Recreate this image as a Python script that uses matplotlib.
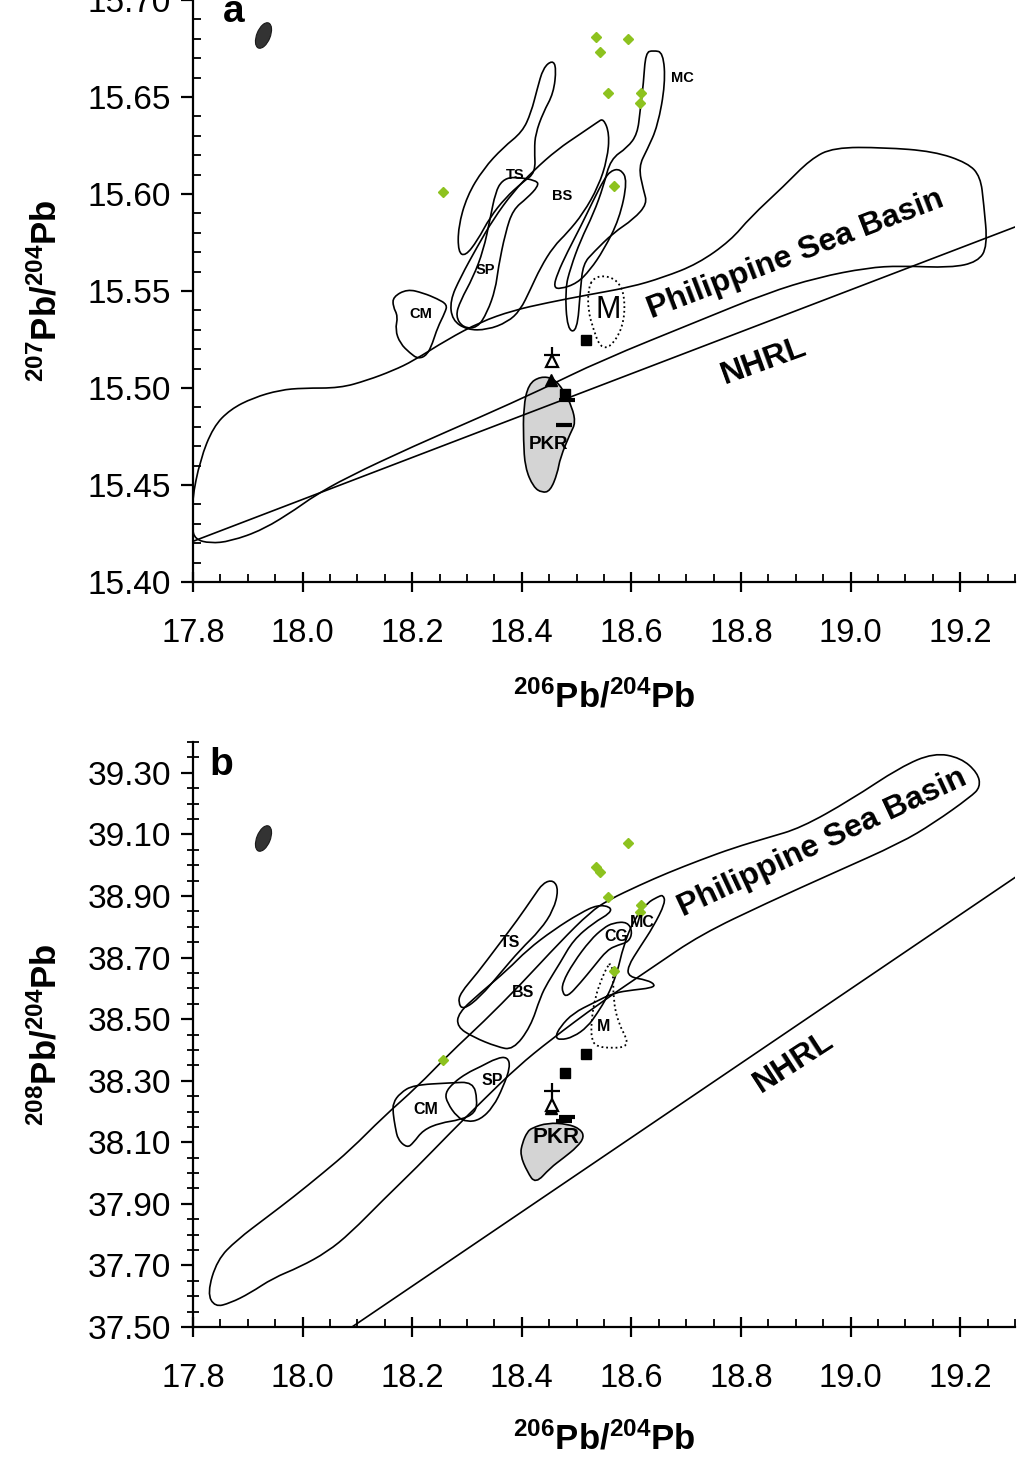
import numpy as np
import matplotlib
matplotlib.use("Agg")
import matplotlib.pyplot as plt
from matplotlib.path import Path
from matplotlib.patches import PathPatch
from matplotlib.transforms import Affine2D
from matplotlib.ticker import MultipleLocator, FormatStrFormatter

plt.rcParams['font.family'] = ['Liberation Sans', 'DejaVu Sans']
plt.rcParams['mathtext.fontset'] = 'custom'
plt.rcParams['mathtext.rm'] = 'Liberation Sans'
plt.rcParams['mathtext.bf'] = 'Liberation Sans:bold'

# ---------------- panel a: 207Pb/204Pb vs 206Pb/204Pb ----------------
psb_a_x = [17.804, 17.798, 17.798, 17.813, 17.837, 17.868, 17.910, 17.959, 18.001, 18.068,
           18.118, 18.165, 18.202, 18.264, 18.324, 18.384, 18.447, 18.520, 18.598, 18.658,
           18.721, 18.781, 18.817, 18.878, 18.927, 18.969, 19.060, 19.152, 19.214, 19.237,
           19.243, 19.250, 19.232, 19.183, 19.091, 19.031, 18.940, 18.848, 18.726, 18.543,
           18.434, 18.324, 18.202, 18.081, 18.019, 17.990, 17.928, 17.868, 17.831]
psb_a_y = [15.422, 15.428, 15.442, 15.463, 15.480, 15.489, 15.495, 15.499, 15.500, 15.500,
           15.504, 15.509, 15.514, 15.525, 15.534, 15.540, 15.544, 15.548, 15.552, 15.557,
           15.564, 15.576, 15.588, 15.604, 15.618, 15.624, 15.624, 15.622, 15.616, 15.609,
           15.595, 15.573, 15.565, 15.562, 15.563, 15.562, 15.557, 15.549, 15.535, 15.514,
           15.499, 15.485, 15.470, 15.454, 15.444, 15.438, 15.427, 15.421, 15.420]

ts_a_x = [18.456, 18.439, 18.428, 18.417, 18.401, 18.366, 18.330, 18.300, 18.284, 18.284,
          18.297, 18.319, 18.342, 18.370, 18.401, 18.425, 18.423, 18.425, 18.439, 18.458, 18.463]
ts_a_y = [15.669, 15.665, 15.654, 15.642, 15.632, 15.624, 15.613, 15.599, 15.583, 15.570,
          15.568, 15.576, 15.588, 15.598, 15.606, 15.611, 15.623, 15.631, 15.642, 15.652, 15.665]

sp_a_x = [18.384, 18.428, 18.430, 18.410, 18.384, 18.370, 18.357, 18.352, 18.337, 18.319,
          18.293, 18.279, 18.288, 18.311, 18.330, 18.342, 18.352, 18.364]
sp_a_y = [15.609, 15.607, 15.604, 15.598, 15.592, 15.580, 15.562, 15.551, 15.539, 15.531,
          15.531, 15.537, 15.545, 15.557, 15.571, 15.587, 15.601, 15.607]

bs_a_x = [18.549, 18.560, 18.556, 18.540, 18.512, 18.483, 18.458, 18.434, 18.416, 18.397,
          18.374, 18.337, 18.300, 18.273, 18.269, 18.288, 18.319, 18.348, 18.384, 18.421,
          18.465, 18.507, 18.538]
bs_a_y = [15.639, 15.631, 15.618, 15.604, 15.590, 15.580, 15.573, 15.562, 15.551, 15.540,
          15.534, 15.530, 15.530, 15.535, 15.545, 15.557, 15.573, 15.587, 15.601, 15.612,
          15.623, 15.631, 15.637]

mc_a_x = [18.640, 18.658, 18.662, 18.648, 18.629, 18.613, 18.622, 18.629, 18.604, 18.567,
          18.531, 18.512, 18.507, 18.501, 18.483, 18.479, 18.489, 18.507, 18.531, 18.549,
          18.562, 18.593, 18.611, 18.616, 18.622, 18.626]
mc_a_y = [15.674, 15.673, 15.657, 15.635, 15.623, 15.614, 15.602, 15.595, 15.587, 15.580,
          15.570, 15.564, 15.551, 15.529, 15.530, 15.551, 15.562, 15.576, 15.590, 15.604,
          15.618, 15.624, 15.631, 15.643, 15.657, 15.673]

loop_a_x = [18.458, 18.470, 18.501, 18.525, 18.549, 18.578, 18.593, 18.580, 18.562, 18.549,
            18.531, 18.507, 18.483, 18.465]
loop_a_y = [15.552, 15.551, 15.554, 15.561, 15.571, 15.587, 15.607, 15.613, 15.612, 15.607,
            15.597, 15.583, 15.570, 15.559]

cm_a_x = [18.165, 18.191, 18.220, 18.246, 18.264, 18.260, 18.246, 18.237, 18.227, 18.211,
          18.196, 18.178, 18.169, 18.174, 18.165]
cm_a_y = [15.547, 15.551, 15.549, 15.546, 15.543, 15.539, 15.531, 15.523, 15.517, 15.515,
          15.518, 15.523, 15.530, 15.537, 15.542]

m_a_x = [18.531, 18.556, 18.580, 18.589, 18.584, 18.562, 18.543, 18.531, 18.521, 18.521]
m_a_y = [15.557, 15.558, 15.554, 15.544, 15.531, 15.521, 15.521, 15.530, 15.540, 15.551]

pkr_a_x = [18.434, 18.458, 18.476, 18.492, 18.498, 18.489, 18.470, 18.465, 18.452, 18.437,
           18.421, 18.406, 18.403, 18.403, 18.412]
pkr_a_y = [15.506, 15.505, 15.499, 15.490, 15.482, 15.477, 15.464, 15.456, 15.447, 15.446,
           15.449, 15.459, 15.473, 15.490, 15.502]

nhrl_a_x = [17.80, 19.30]
nhrl_a_y = [15.421, 15.583]

# ---------------- panel b: 208Pb/204Pb vs 206Pb/204Pb ----------------
psb_b_x = [17.826, 17.844, 17.880, 17.935, 17.983, 18.037, 18.087, 18.147, 18.209, 18.269,
           18.330, 18.397, 18.470, 18.525, 18.558, 18.616, 18.666, 18.726, 18.786, 18.848,
           18.909, 19.000, 19.091, 19.152, 19.201, 19.232, 19.237, 19.219, 19.152, 19.091,
           18.969, 18.848, 18.726, 18.640, 18.543, 18.452, 18.392, 18.330, 18.269, 18.209,
           18.147, 18.087, 18.045, 17.995, 17.946, 17.904, 17.868, 17.840]
psb_b_y = [37.610, 37.718, 37.783, 37.857, 37.922, 38.000, 38.075, 38.182, 38.280, 38.390,
           38.491, 38.611, 38.751, 38.848, 38.887, 38.936, 38.975, 39.017, 39.056, 39.089,
           39.121, 39.212, 39.319, 39.365, 39.349, 39.300, 39.254, 39.222, 39.137, 39.072,
           38.975, 38.878, 38.774, 38.670, 38.553, 38.432, 38.345, 38.238, 38.130, 38.020,
           37.913, 37.805, 37.744, 37.695, 37.659, 37.610, 37.578, 37.565]

ts_b_x = [18.458, 18.467, 18.458, 18.434, 18.397, 18.361, 18.324, 18.293, 18.284, 18.288,
          18.319, 18.355, 18.392, 18.421, 18.439]
ts_b_y = [38.952, 38.920, 38.855, 38.790, 38.725, 38.650, 38.572, 38.530, 38.553, 38.585,
          38.650, 38.735, 38.822, 38.897, 38.943]

bs_b_x = [18.562, 18.562, 18.531, 18.494, 18.470, 18.447, 18.434, 18.416, 18.384, 18.355,
          18.311, 18.282, 18.284, 18.324, 18.374, 18.410, 18.458, 18.507, 18.538]
bs_b_y = [38.865, 38.845, 38.813, 38.757, 38.683, 38.618, 38.572, 38.475, 38.400, 38.410,
          38.442, 38.475, 38.520, 38.585, 38.660, 38.725, 38.790, 38.845, 38.871]

sp_b_x = [18.324, 18.355, 18.374, 18.379, 18.366, 18.348, 18.324, 18.300, 18.282, 18.264,
          18.260, 18.275, 18.300]
sp_b_y = [38.345, 38.374, 38.377, 38.345, 38.280, 38.215, 38.173, 38.166, 38.182, 38.228,
          38.260, 38.293, 38.325]

cm_b_x = [18.165, 18.178, 18.202, 18.269, 18.311, 18.319, 18.315, 18.288, 18.251, 18.220,
          18.202, 18.191, 18.174, 18.169, 18.165]
cm_b_y = [38.228, 38.260, 38.286, 38.293, 38.296, 38.238, 38.195, 38.173, 38.163, 38.140,
          38.098, 38.082, 38.108, 38.150, 38.195]

mc_b_x = [18.658, 18.662, 18.640, 18.616, 18.593, 18.595, 18.629, 18.644, 18.635, 18.604,
          18.567, 18.531, 18.494, 18.470, 18.461, 18.470, 18.494, 18.520, 18.538, 18.556,
          18.574, 18.585, 18.604, 18.629, 18.648]
mc_b_y = [38.904, 38.878, 38.800, 38.735, 38.670, 38.637, 38.627, 38.611, 38.601, 38.595,
          38.585, 38.553, 38.520, 38.475, 38.442, 38.432, 38.442, 38.475, 38.520, 38.572,
          38.650, 38.735, 38.822, 38.878, 38.897]

cg_b_x = [18.567, 18.593, 18.602, 18.595, 18.576, 18.556, 18.531, 18.507, 18.483, 18.474,
          18.474, 18.494, 18.525, 18.549]
cg_b_y = [38.813, 38.816, 38.783, 38.751, 38.741, 38.725, 38.670, 38.618, 38.572, 38.585,
          38.618, 38.683, 38.757, 38.796]

m_b_x = [18.562, 18.567, 18.567, 18.576, 18.593, 18.589, 18.567, 18.538, 18.527, 18.527,
         18.534, 18.547, 18.556]
m_b_y = [38.683, 38.650, 38.562, 38.488, 38.432, 38.410, 38.406, 38.410, 38.432, 38.497,
         38.572, 38.637, 38.670]

pkr_b_x = [18.419, 18.447, 18.483, 18.507, 18.514, 18.501, 18.476, 18.452, 18.425, 18.410,
           18.397, 18.401, 18.410]
pkr_b_y = [38.147, 38.163, 38.160, 38.143, 38.117, 38.085, 38.049, 38.017, 37.965, 38.004,
           38.059, 38.098, 38.134]

nhrl_b_x = [18.09, 19.30]
nhrl_b_y = [37.50, 38.96]

# axis ticks
x_ticks = [17.8, 18.0, 18.2, 18.4, 18.6, 18.8, 19.0, 19.2]
a_ticks = [15.40, 15.45, 15.50, 15.55, 15.60, 15.65, 15.70]
b_ticks = [37.50, 37.70, 37.90, 38.10, 38.30, 38.50, 38.70, 38.90, 39.10, 39.30]

# ---------------- samples ----------------
green_x = [18.536, 18.593, 18.542, 18.558, 18.618, 18.615, 18.569, 18.257]
green_a = [15.681, 15.680, 15.673, 15.652, 15.652, 15.647, 15.604, 15.601]
green_b = [38.994, 39.072, 38.978, 38.897, 38.871, 38.848, 38.657, 38.367]

ref_x = [17.928]
ref_a = [15.682]
ref_b = [39.089]

sq_x = [18.518, 18.479]
sq_a = [15.525, 15.497]
sq_b = [38.387, 38.325]

dash_x = [18.483, 18.477]
dash_a = [15.494, 15.481]
dash_b = [38.182, 38.169]

plus_x = [18.455]
plus_a = [15.517]
plus_b = [38.267]

otri_x = [18.455]
otri_a = [15.514]
otri_b = [38.222]

ftri_x = [18.453]
ftri_a = [15.504]
ftri_b = [38.212]

GREEN = '#8DC21F'


def field_path(xs, ys):
    pts = np.column_stack([xs, ys])
    mids = (pts + np.roll(pts, -1, axis=0)) / 2.0
    verts = [mids[-1]]
    codes = [Path.MOVETO]
    for p, m in zip(pts, mids):
        verts += [p, m]
        codes += [Path.CURVE3, Path.CURVE3]
    return Path(verts, codes)


def draw_field(ax, xs, ys, face='none', ls='-', lw=1.2, z=2):
    ax.add_patch(PathPatch(field_path(xs, ys), facecolor=face, edgecolor='black',
                           lw=lw, ls=ls, zorder=z))


ell = Path.unit_circle().transformed(Affine2D().scale(0.5, 1.0).rotate_deg(-22))


def style_axes(ax, yticks, yminor, ymin_dir):
    for s in ['top', 'right']:
        ax.spines[s].set_visible(False)
    for s in ['left', 'bottom']:
        ax.spines[s].set_linewidth(1.6)
    ax.set_xlim(17.8, 19.3)
    ax.set_xticks(x_ticks)
    ax.xaxis.set_minor_locator(MultipleLocator(0.05))
    ax.xaxis.set_major_formatter(FormatStrFormatter('%.1f'))
    ax.set_yticks(yticks)
    ax.yaxis.set_minor_locator(MultipleLocator(yminor))
    ax.yaxis.set_major_formatter(FormatStrFormatter('%.2f'))
    ax.tick_params(axis='x', which='major', direction='inout', length=14, width=1.6,
                   labelsize=23.5, pad=19)
    ax.tick_params(axis='x', which='minor', direction='in', length=6, width=1.3)
    ax.tick_params(axis='y', which='major', direction='out', length=9, width=1.6,
                   labelsize=24, pad=7)
    ax.tick_params(axis='y', which='minor', direction=ymin_dir,
                   length=6 if ymin_dir == 'in' else 8, width=1.3)
    ax.set_xlabel(r'$\mathbf{^{206}}$Pb/$\mathbf{^{204}}$Pb', fontsize=25, fontweight='bold')


def draw_samples(ax, ys):
    g, r, sq, da, pl, ot, ft = ys
    ax.plot(green_x, g, ls='none', marker='D', ms=5.5, color=GREEN, mec=GREEN, zorder=4)
    ax.plot(ref_x, r, ls='none', marker=ell, ms=19, color='#333333',
            mec='#1a1a1a', mew=0.8, zorder=4)
    ax.plot(sq_x, sq, ls='none', marker='s', ms=6.5, color='black', zorder=4)
    ax.plot(dash_x, da, ls='none', marker='_', ms=12, mew=3, color='black', zorder=4)
    ax.plot(plus_x, pl, ls='none', marker='+', ms=11, mew=1.6, color='black', zorder=5)
    ax.plot(ftri_x, ft, ls='none', marker='^', ms=8, color='black', zorder=4)
    ax.plot(otri_x, ot, ls='none', marker='^', ms=9, mfc='white', mec='black', mew=1.6,
            zorder=5)


fig = plt.figure(figsize=(10.36, 14.57), dpi=100)

# ---- panel a ----
ax1 = fig.add_axes([0.1863, 0.6005, 0.7934, 0.3995])
ax1.set_ylim(15.40, 15.70)
style_axes(ax1, a_ticks, 0.01, 'in')
ax1.set_ylabel(r'$\mathbf{^{207}}$Pb/$\mathbf{^{204}}$Pb', fontsize=25, fontweight='bold')
ax1.yaxis.set_label_coords(-0.158, 0.5)
ax1.xaxis.set_label_coords(0.5, -0.168)

draw_field(ax1, pkr_a_x, pkr_a_y, face='#d4d4d4', z=1)
draw_field(ax1, psb_a_x, psb_a_y)
draw_field(ax1, ts_a_x, ts_a_y)
draw_field(ax1, sp_a_x, sp_a_y)
draw_field(ax1, bs_a_x, bs_a_y)
draw_field(ax1, mc_a_x, mc_a_y)
draw_field(ax1, loop_a_x, loop_a_y)
draw_field(ax1, cm_a_x, cm_a_y)
draw_field(ax1, m_a_x, m_a_y, ls=(0, (1, 1.6)), lw=1.3)
ax1.plot(nhrl_a_x, nhrl_a_y, color='black', lw=1.2, zorder=2)
draw_samples(ax1, [green_a, ref_a, sq_a, dash_a, plus_a, otri_a, ftri_a])

small = dict(fontsize=10.5, fontweight='bold', ha='center', va='center', zorder=6)
ax1.text(18.693, 15.660, 'MC', **small)
ax1.text(18.388, 15.610, 'TS', **small)
ax1.text(18.474, 15.599, 'BS', **small)
ax1.text(18.333, 15.561, 'SP', **small)
ax1.text(18.215, 15.538, 'CM', **small)
ax1.text(18.558, 15.540, 'M', fontsize=22, ha='center', va='center', zorder=6)
ax1.text(18.448, 15.471, 'PKR', fontsize=13.5, fontweight='bold', ha='center',
         va='center', zorder=6)
ax1.text(18.900, 15.569, 'Philippine Sea Basin', fontsize=23, fontweight='bold',
         rotation=21, ha='center', va='center', rotation_mode='anchor')
ax1.text(18.841, 15.514, 'NHRL', fontsize=23, fontweight='bold', rotation=20,
         ha='center', va='center', rotation_mode='anchor')
ax1.text(0.049, 0.979, 'a', transform=ax1.transAxes, fontsize=28, fontweight='bold',
         ha='center', va='center')

# ---- panel b ----
ax2 = fig.add_axes([0.1863, 0.0892, 0.7934, 0.4015])
ax2.set_ylim(37.50, 39.40)
style_axes(ax2, b_ticks, 0.05, 'inout')
ax2.set_ylabel(r'$\mathbf{^{208}}$Pb/$\mathbf{^{204}}$Pb', fontsize=25, fontweight='bold')
ax2.yaxis.set_label_coords(-0.158, 0.5)
ax2.xaxis.set_label_coords(0.5, -0.162)

draw_field(ax2, pkr_b_x, pkr_b_y, face='#d4d4d4', z=1)
draw_field(ax2, psb_b_x, psb_b_y)
draw_field(ax2, ts_b_x, ts_b_y)
draw_field(ax2, bs_b_x, bs_b_y)
draw_field(ax2, sp_b_x, sp_b_y)
draw_field(ax2, cm_b_x, cm_b_y)
draw_field(ax2, mc_b_x, mc_b_y)
draw_field(ax2, cg_b_x, cg_b_y)
draw_field(ax2, m_b_x, m_b_y, ls=(0, (1, 1.6)), lw=1.3)
ax2.plot(nhrl_b_x, nhrl_b_y, color='black', lw=1.2, zorder=2)
draw_samples(ax2, [green_b, ref_b, sq_b, dash_b, plus_b, otri_b, ftri_b])

small_b = dict(small, fontsize=11.5)
ax2.text(18.379, 38.748, 'TS', **small_b)
ax2.text(18.403, 38.588, 'BS', **small_b)
ax2.text(18.346, 38.302, 'SP', **small_b)
ax2.text(18.224, 38.205, 'CM', **small_b)
ax2.text(18.620, 38.813, 'MC', **small_b)
ax2.text(18.573, 38.770, 'CG', **small_b)
ax2.text(18.549, 38.475, 'M', **small_b)
ax2.text(18.463, 38.117, 'PKR', fontsize=16, fontweight='bold', ha='center',
         va='center', zorder=6)
ax2.text(18.949, 39.072, 'Philippine Sea Basin', fontsize=23, fontweight='bold',
         rotation=25, ha='center', va='center', rotation_mode='anchor')
ax2.text(18.896, 38.361, 'NHRL', fontsize=23, fontweight='bold', rotation=33,
         ha='center', va='center', rotation_mode='anchor')
ax2.text(0.034, 0.961, 'b', transform=ax2.transAxes, fontsize=28, fontweight='bold',
         ha='center', va='center')

fig.savefig('out.png', dpi=100)
